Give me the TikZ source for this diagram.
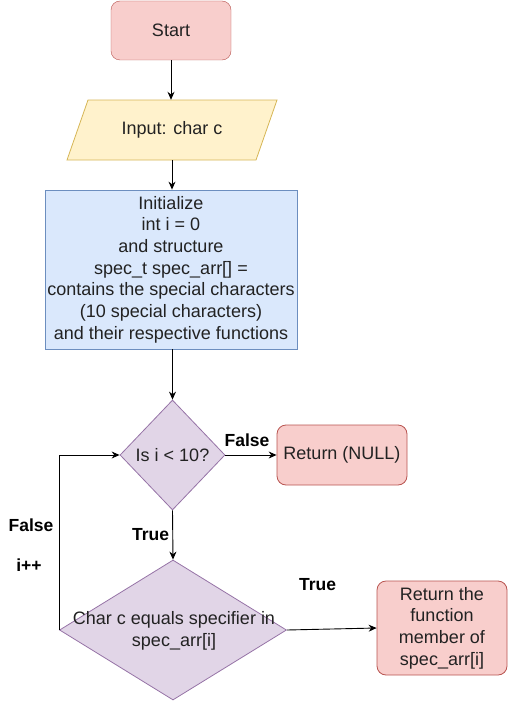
\documentclass[tikz,border=0pt]{standalone}
\usepackage{fontspec}
\setmainfont{Liberation Sans}
\usetikzlibrary{shapes.geometric,arrows.meta}
\definecolor{redf}{HTML}{F8CECC}
\definecolor{redd}{HTML}{B85450}
\definecolor{yelf}{HTML}{FFF2CC}
\definecolor{yeld}{HTML}{D6B656}
\definecolor{bluf}{HTML}{DAE8FC}
\definecolor{blud}{HTML}{6C8EBF}
\definecolor{purf}{HTML}{E1D5E7}
\definecolor{purd}{HTML}{9673A6}
\definecolor{txt}{HTML}{222222}
\begin{document}
\begin{tikzpicture}[x=1pt,y=-1pt,
  font=\fontsize{18}{21.7}\selectfont, text=txt,
  term/.style={draw=redd, fill=redf, rounded corners=9pt, inner sep=0pt, align=center},
  procbox/.style={draw=blud, fill=bluf, inner sep=0pt, align=center},
  decis/.style={diamond, draw=purd, fill=purf, inner sep=0pt},
  plain/.style={inner sep=0pt, align=center},
  lbl/.style={inner sep=0pt, font=\fontsize{17.5}{21.7}\selectfont\bfseries, text=black},
  arr/.style={-{Stealth[length=8pt,width=7pt]}, line width=0.9pt, draw=black}]
\useasboundingbox (0,0) rectangle (508,701);

\node[term, minimum width=120pt, minimum height=59pt] (start) at (171,30.5) {Start};

\draw[draw=yeld, fill=yelf, line width=0.8pt] (88,100) -- (277,100) -- (256,160) -- (67,160) -- cycle;
\node[plain, minimum width=168pt, minimum height=60pt] (input) at (172,130) {Input: char c};

\node[procbox, minimum width=252pt, minimum height=159pt, line width=0.8pt] (init) at (171,269.5)
  {Initialize\\int i = 0\\and structure\\spec\_t spec\_arr[] =\\contains the special characters\\(10 special characters)\\and their respective functions};

\node[decis, minimum width=105pt, minimum height=110pt, line width=0.8pt] (d1) at (172.5,455) {Is i < 10?};

\node[term, minimum width=130pt, minimum height=60pt, line width=0.8pt] (rn) at (342,455) {Return (NULL)};

\node[decis, minimum width=227pt, minimum height=140pt, line width=0.8pt] (d2) at (173,630) {};
\node[plain] (d2t) at (174,631) {Char c equals specifier in\\spec\_arr[i]};

\node[term, minimum width=130pt, minimum height=94pt, line width=0.8pt] (rf) at (442,628)
  {Return the\\function\\member of\\spec\_arr[i]};

\draw[arr] (start) -- (start |- input.north);
\draw[arr] (input.south) -- (input.south |- init.north);
\draw[arr] (d1.north |- init.south) -- (d1.north);
\draw[arr] (d1.east) -- (rn.west);
\draw[arr] (d1.south) -- (d2.north);
\draw[arr] (d2.east) -- (rf.west);
\draw[arr] (d2.west) |- (d1.west);

\node[lbl] (lf1) at (247,440) {False};
\node[lbl] (lt1) at (150.5,535) {True};
\node[lbl] (lt2) at (317.5,585) {True};
\node[lbl] (lf2) at (31,525) {False};
\node[lbl] (lip) at (29,565) {i++};
\end{tikzpicture}
\end{document}
